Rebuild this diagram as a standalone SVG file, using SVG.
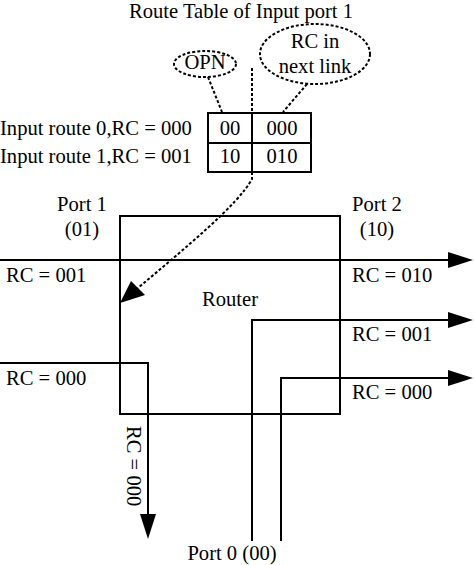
<svg xmlns="http://www.w3.org/2000/svg" width="474" height="565" viewBox="0 0 474 565">
<style>
text{font-family:"Liberation Serif","Times New Roman",serif;font-size:20.6px;fill:#000}
.m{text-anchor:middle}
.ln{fill:none;stroke:#000;stroke-width:2}
.dsh{fill:none;stroke:#000;stroke-width:2;stroke-dasharray:3 2}
.ah{fill:#000;stroke:none}
</style>
<rect width="474" height="565" fill="#fff"/>
<text class="m" x="241" y="18">Route Table of Input port 1</text>
<g id="opn">
<ellipse class="dsh" cx="205" cy="64" rx="31" ry="13"/>
<text class="m" x="205" y="69">OPN</text>
</g>
<g id="rc-next">
<ellipse class="dsh" cx="315" cy="54" rx="55" ry="30"/>
<text class="m" x="315" y="48">RC in</text>
<text class="m" x="315" y="73">next link</text>
</g>
<g id="route-table">
<rect class="ln" x="208" y="113" width="103" height="59"/>
<line class="ln" x1="208" y1="143" x2="311" y2="143"/>
<line class="ln" x1="252" y1="113" x2="252" y2="172"/>
<text class="m" x="230" y="135">00</text>
<text class="m" x="282" y="135">000</text>
<text class="m" x="230" y="163">10</text>
<text class="m" x="282" y="163">010</text>
<text x="0" y="135">Input route 0,RC = 000</text>
<text x="0" y="163">Input route 1,RC = 001</text>
</g>
<g id="router">
<rect class="ln" x="120" y="216" width="220" height="198"/>
<text class="m" x="230" y="306">Router</text>
</g>
<g id="port1">
<text class="m" x="82" y="211">Port 1</text>
<text class="m" x="82" y="236">(01)</text>
</g>
<g id="port2">
<text class="m" x="377" y="211">Port 2</text>
<text class="m" x="377" y="236">(10)</text>
</g>
<g id="port0">
<text class="m" x="232" y="560">Port 0 (00)</text>
</g>
<g id="connectors">
<line class="dsh" x1="208" y1="77" x2="222" y2="112"/>
<line class="dsh" x1="307" y1="84" x2="283" y2="112"/>
<line class="dsh" x1="252" y1="68" x2="252" y2="113"/>
<path class="dsh" d="M252,172 L252,179 C238,205 185,248 138,288"/>
<polygon class="ah" points="120,303 131,281 145,295"/>
<line class="ln" x1="0" y1="260" x2="450" y2="260"/>
<polygon class="ah" points="473,260 448,252 448,268"/>
<polyline class="ln" points="252,541 252,320 450,320"/>
<polygon class="ah" points="473,320 448,312 448,328"/>
<polyline class="ln" points="281,541 281,378 450,378"/>
<polygon class="ah" points="473,378 448,370 448,386"/>
<polyline class="ln" points="0,363 148,363 148,516"/>
<polygon class="ah" points="148,539 140,514 156,514"/>
<text x="6" y="282">RC = 001</text>
<text x="352" y="282">RC = 010</text>
<text x="352" y="341">RC = 001</text>
<text x="6" y="385">RC = 000</text>
<text x="352" y="399">RC = 000</text>
<text transform="translate(127,426) rotate(90)">RC = 000</text>
</g>
</svg>
